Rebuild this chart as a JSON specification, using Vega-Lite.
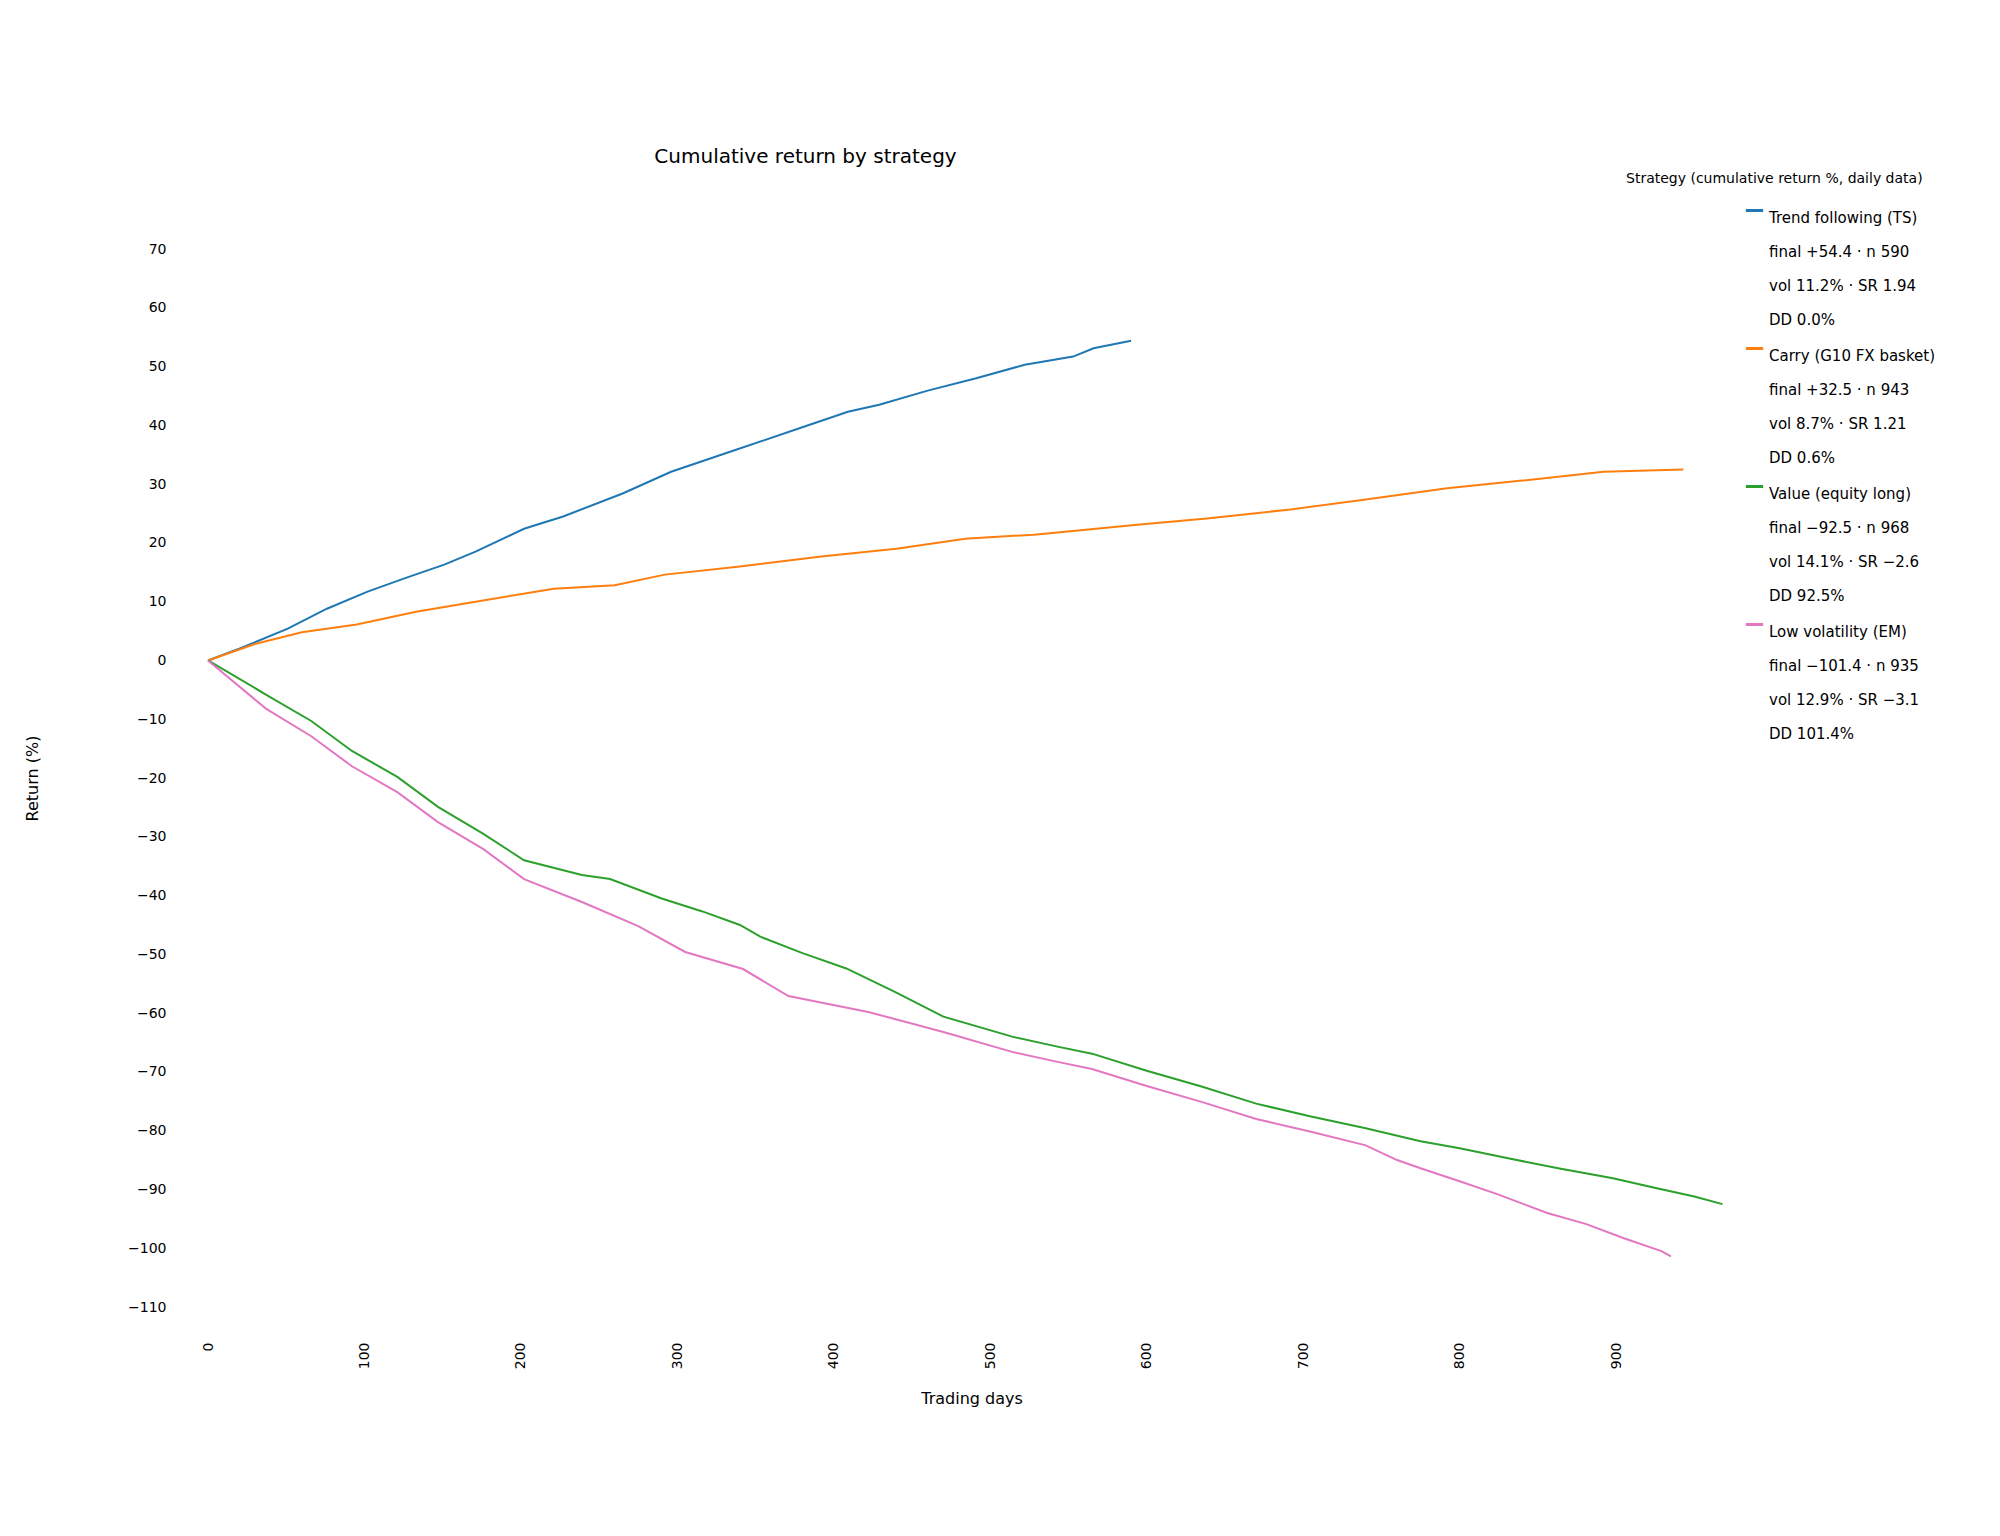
{
  "$schema": "https://vega.github.io/schema/vega-lite/v6.json",
  "width": 1527,
  "height": 1058,
  "autosize": {"type": "none"},
  "padding": {"left": 208, "top": 249, "right": 265, "bottom": 229},
  "background": "white",
  "config": {"view": {"stroke": null}, "font": "DejaVu Sans", "style": {"guide-label": {"lineHeight": 34}}},
  "title": {"text": "Cumulative return by strategy", "fontSize": 20, "fontWeight": "normal", "anchor": "middle", "frame": "group", "dx": -166, "offset": 5, "color": "#000000"},
  "data": {"values": [
    {"series": "A", "day": 0, "value": 0}, {"series": "A", "day": 20, "value": 2.0}, {"series": "A", "day": 51, "value": 5.4}, {"series": "A", "day": 76, "value": 8.8}, {"series": "A", "day": 102, "value": 11.7}, {"series": "A", "day": 126, "value": 14.0}, {"series": "A", "day": 151, "value": 16.3}, {"series": "A", "day": 171, "value": 18.5}, {"series": "A", "day": 202, "value": 22.4}, {"series": "A", "day": 227, "value": 24.5}, {"series": "A", "day": 265, "value": 28.4}, {"series": "A", "day": 296, "value": 32.1}, {"series": "A", "day": 337, "value": 35.8}, {"series": "A", "day": 378, "value": 39.5}, {"series": "A", "day": 409, "value": 42.3}, {"series": "A", "day": 429, "value": 43.5}, {"series": "A", "day": 460, "value": 45.9}, {"series": "A", "day": 491, "value": 48.0}, {"series": "A", "day": 522, "value": 50.3}, {"series": "A", "day": 553, "value": 51.7}, {"series": "A", "day": 566, "value": 53.1}, {"series": "A", "day": 590, "value": 54.4},
    {"series": "B", "day": 0, "value": 0}, {"series": "B", "day": 30, "value": 2.8}, {"series": "B", "day": 60, "value": 4.8}, {"series": "B", "day": 95, "value": 6.1}, {"series": "B", "day": 133, "value": 8.3}, {"series": "B", "day": 171, "value": 10.0}, {"series": "B", "day": 221, "value": 12.2}, {"series": "B", "day": 260, "value": 12.8}, {"series": "B", "day": 292, "value": 14.6}, {"series": "B", "day": 340, "value": 16.0}, {"series": "B", "day": 392, "value": 17.7}, {"series": "B", "day": 440, "value": 19.0}, {"series": "B", "day": 484, "value": 20.7}, {"series": "B", "day": 528, "value": 21.4}, {"series": "B", "day": 594, "value": 23.1}, {"series": "B", "day": 640, "value": 24.2}, {"series": "B", "day": 692, "value": 25.7}, {"series": "B", "day": 740, "value": 27.4}, {"series": "B", "day": 792, "value": 29.3}, {"series": "B", "day": 840, "value": 30.6}, {"series": "B", "day": 892, "value": 32.1}, {"series": "B", "day": 943, "value": 32.5},
    {"series": "C", "day": 0, "value": 0}, {"series": "C", "day": 37, "value": -5.8}, {"series": "C", "day": 66, "value": -10.3}, {"series": "C", "day": 92, "value": -15.4}, {"series": "C", "day": 121, "value": -19.8}, {"series": "C", "day": 147, "value": -24.9}, {"series": "C", "day": 176, "value": -29.5}, {"series": "C", "day": 202, "value": -34.0}, {"series": "C", "day": 239, "value": -36.5}, {"series": "C", "day": 257, "value": -37.2}, {"series": "C", "day": 290, "value": -40.5}, {"series": "C", "day": 316, "value": -42.7}, {"series": "C", "day": 340, "value": -45.0}, {"series": "C", "day": 353, "value": -47.0}, {"series": "C", "day": 380, "value": -49.8}, {"series": "C", "day": 408, "value": -52.4}, {"series": "C", "day": 440, "value": -56.5}, {"series": "C", "day": 470, "value": -60.6}, {"series": "C", "day": 514, "value": -64.0}, {"series": "C", "day": 543, "value": -65.7}, {"series": "C", "day": 565, "value": -66.9}, {"series": "C", "day": 600, "value": -69.8}, {"series": "C", "day": 635, "value": -72.5}, {"series": "C", "day": 670, "value": -75.4}, {"series": "C", "day": 705, "value": -77.6}, {"series": "C", "day": 740, "value": -79.6}, {"series": "C", "day": 775, "value": -81.8}, {"series": "C", "day": 800, "value": -83.0}, {"series": "C", "day": 831, "value": -84.7}, {"series": "C", "day": 863, "value": -86.4}, {"series": "C", "day": 898, "value": -88.1}, {"series": "C", "day": 926, "value": -89.8}, {"series": "C", "day": 950, "value": -91.2}, {"series": "C", "day": 968, "value": -92.5},
    {"series": "D", "day": 0, "value": 0}, {"series": "D", "day": 37, "value": -8.2}, {"series": "D", "day": 66, "value": -12.9}, {"series": "D", "day": 92, "value": -18.0}, {"series": "D", "day": 121, "value": -22.4}, {"series": "D", "day": 147, "value": -27.5}, {"series": "D", "day": 176, "value": -32.1}, {"series": "D", "day": 202, "value": -37.2}, {"series": "D", "day": 239, "value": -41.1}, {"series": "D", "day": 275, "value": -45.2}, {"series": "D", "day": 305, "value": -49.6}, {"series": "D", "day": 342, "value": -52.5}, {"series": "D", "day": 371, "value": -57.1}, {"series": "D", "day": 422, "value": -59.8}, {"series": "D", "day": 470, "value": -63.2}, {"series": "D", "day": 514, "value": -66.6}, {"series": "D", "day": 543, "value": -68.3}, {"series": "D", "day": 565, "value": -69.5}, {"series": "D", "day": 600, "value": -72.4}, {"series": "D", "day": 635, "value": -75.1}, {"series": "D", "day": 670, "value": -78.0}, {"series": "D", "day": 705, "value": -80.2}, {"series": "D", "day": 740, "value": -82.5}, {"series": "D", "day": 760, "value": -85.0}, {"series": "D", "day": 775, "value": -86.4}, {"series": "D", "day": 800, "value": -88.6}, {"series": "D", "day": 824, "value": -90.8}, {"series": "D", "day": 856, "value": -94.0}, {"series": "D", "day": 881, "value": -95.9}, {"series": "D", "day": 905, "value": -98.3}, {"series": "D", "day": 929, "value": -100.5}, {"series": "D", "day": 935, "value": -101.4}
  ]},
  "mark": {"type": "line", "strokeWidth": 2},
  "encoding": {
    "x": {
      "field": "day", "type": "quantitative",
      "scale": {"domain": [0, 976], "nice": false},
      "axis": {"values": [0, 100, 200, 300, 400, 500, 600, 700, 800, 900], "labelAngle": -90, "labelFontSize": 14, "labelPadding": 35, "labelColor": "#000000", "ticks": false, "domain": false, "grid": false, "title": "Trading days", "titleFontSize": 16, "titleFontWeight": "normal", "titleColor": "#000000", "titleY": 91, "titleBaseline": "middle"}
    },
    "y": {
      "field": "value", "type": "quantitative",
      "scale": {"domain": [-110, 70], "nice": false},
      "axis": {"values": [-110, -100, -90, -80, -70, -60, -50, -40, -30, -20, -10, 0, 10, 20, 30, 40, 50, 60, 70], "labelFontSize": 14, "labelPadding": 42, "labelColor": "#000000", "ticks": false, "domain": false, "grid": false, "title": "Return (%)", "titleFontSize": 16, "titleFontWeight": "normal", "titleColor": "#000000", "titleX": -176, "titleBaseline": "middle"}
    },
    "color": {
      "field": "series", "type": "nominal",
      "scale": {"domain": ["A", "B", "C", "D"], "range": ["#1f77b4", "#ff7f0e", "#2ca02c", "#e377c2"]},
      "legend": {
        "orient": "none", "legendX": 1418, "legendY": -77, "padding": 0,
        "title": "Strategy (cumulative return %, daily data)", "titleFontSize": 14, "titleFontWeight": "normal", "titleColor": "#000000", "titleAnchor": "start", "titlePadding": 14, "titleLimit": 400,
        "labelFontSize": 15, "labelColor": "#000000", "labelBaseline": "top", "labelLimit": 400,
        "labelExpr": "datum.label == 'A' ? ['Trend following (TS)', 'final +54.4 · n 590', 'vol 11.2% · SR 1.94', 'DD 0.0%'] : datum.label == 'B' ? ['Carry (G10 FX basket)', 'final +32.5 · n 943', 'vol 8.7% · SR 1.21', 'DD 0.6%'] : datum.label == 'C' ? ['Value (equity long)', 'final −92.5 · n 968', 'vol 14.1% · SR −2.6', 'DD 92.5%'] : ['Low volatility (EM)', 'final −101.4 · n 935', 'vol 12.9% · SR −3.1', 'DD 101.4%']",
        "symbolType": "stroke", "symbolStrokeWidth": 3, "symbolSize": 300, "symbolOffset": 118, "rowPadding": 10
      }
    }
  }
}
